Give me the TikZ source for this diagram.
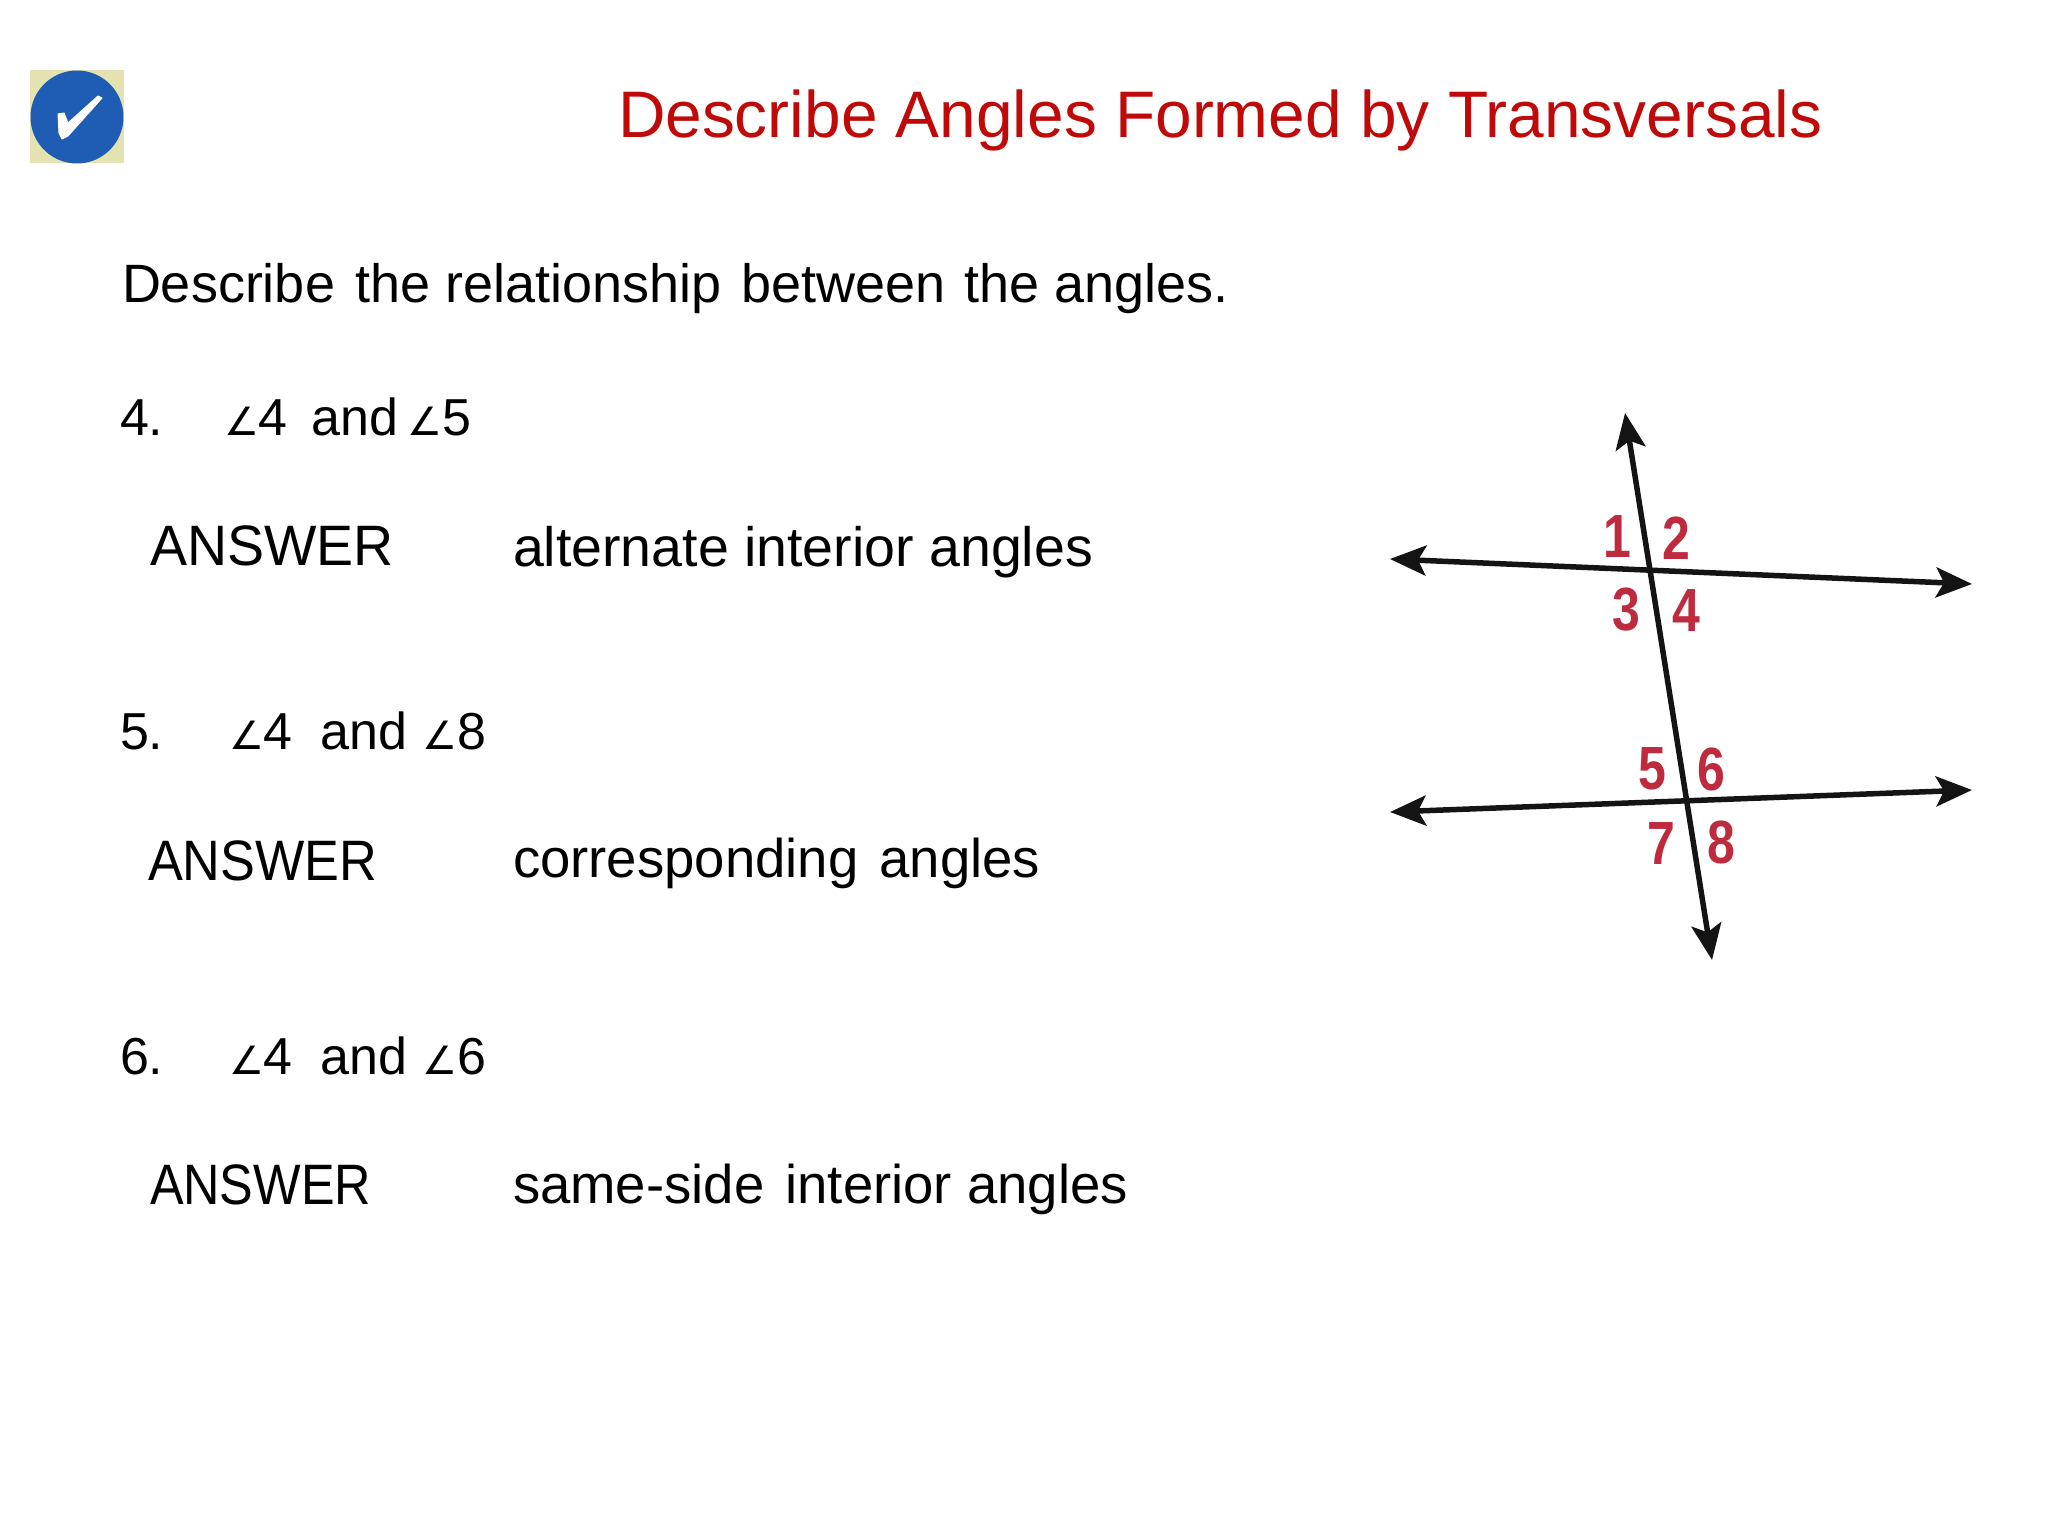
\documentclass[tikz,border=0pt]{standalone}
\usepackage{fontspec}
\setmainfont{Liberation Sans}
\newfontfamily\symfont{DejaVu Sans}
\usetikzlibrary{arrows.meta}
\definecolor{titlered}{HTML}{C00A0A}
\definecolor{numred}{HTML}{BE2A3E}
\definecolor{iconblue}{HTML}{1F5DB5}
\definecolor{iconbeige}{HTML}{E4E2B0}
\newcommand{\fs}[1]{\fontsize{#1}{#1}\selectfont}
\newcommand{\ang}{{\symfont\fs{39}∠}}
\newcommand{\ws}[1]{\hspace{#1pt}}
\tikzset{
  txt/.style={anchor=base west,inner sep=0pt,outer sep=0pt,text=black},
  item/.style={txt,font=\fs{52}},
  ans/.style={txt,font=\fs{57}},
  num/.style={inner sep=0pt,outer sep=0pt,text=numred,font=\fs{61}\bfseries,xscale=.82},
  ray/.style={line width=5.5pt,draw=black!92,{Stealth[length=36pt,width=30pt,inset=8pt]}-{Stealth[length=36pt,width=30pt,inset=8pt]}},
}
\begin{document}
\begin{tikzpicture}[x=1pt,y=-1pt]
\useasboundingbox (0,0) rectangle (2048,1536);
\fill[white] (0,0) rectangle (2048,1536);
% icon
\fill[iconbeige] (30,70) rectangle (124,163);
\fill[iconblue] (77,117) circle (46.5);
\fill[white,draw=white,line width=1pt,line join=round] (58,114) -- (64,113) -- (68,123) -- (98,96) -- (102,98) -- (68,136) -- (62,139) -- (59,133) -- cycle;
% title
\node[txt,text=titlered,font=\fs{65.8}] (title) at (618,138) {Describe Angles Formed by Transversals};
\node[txt,font=\fs{54}] (intro) at (122,302) {Describe \ws{5}the relationship \ws{5}between \ws{4.5}the angles.};
% items
\node[item] (n4) at (120,435) {4.};
\node[item] (q4) at (224,435) {\ang{}4\hspace{24pt}and\hspace{9pt}\ang{}5};
\node[ans] (a4) at (150,565) {\scalebox{.974}[1]{ANSWER}};
\node[txt,font=\fs{55.5}] (r4) at (513,566) {alternate interior angles};
\node[item] (n5) at (120,749.5) {5.};
\node[item] (q5) at (229,749.5) {\ang{}4\hspace{28pt}and\hspace{15pt}\ang{}8};
\node[ans] (a5) at (148,880) {\scalebox{.916}[1]{ANSWER}};
\node[txt,font=\fs{54.5}] (r5) at (513,877) {corresponding \ws{6}angles};
\node[item] (n6) at (120,1074) {6.};
\node[item] (q6) at (229,1074) {\ang{}4\hspace{28pt}and\hspace{15pt}\ang{}6};
\node[ans] (a6) at (150,1204) {\scalebox{.884}[1]{ANSWER}};
\node[txt,font=\fs{54.5}] (r6) at (513,1203) {same-side \ws{6}interior angles};
% figure
\coordinate (tTop) at (1625,413);
\coordinate (tBot) at (1712,960);
\coordinate (aL) at (1390,559);
\coordinate (aR) at (1972,584);
\coordinate (bL) at (1390,812);
\coordinate (bR) at (1972,790);
\draw[ray] (aL) -- (aR);
\draw[ray] (bL) -- (bR);
\draw[ray] (tTop) -- (tBot);
\node[num] (d1) at (1617,537) {1};
\node[num] (d2) at (1676,538) {2};
\node[num] (d3) at (1626,610) {3};
\node[num] (d4) at (1686,611) {4};
\node[num] (d5) at (1652,769) {5};
\node[num] (d6) at (1711,769) {6};
\node[num] (d7) at (1661,844) {7};
\node[num] (d8) at (1721,842) {8};
\end{tikzpicture}
\end{document}
